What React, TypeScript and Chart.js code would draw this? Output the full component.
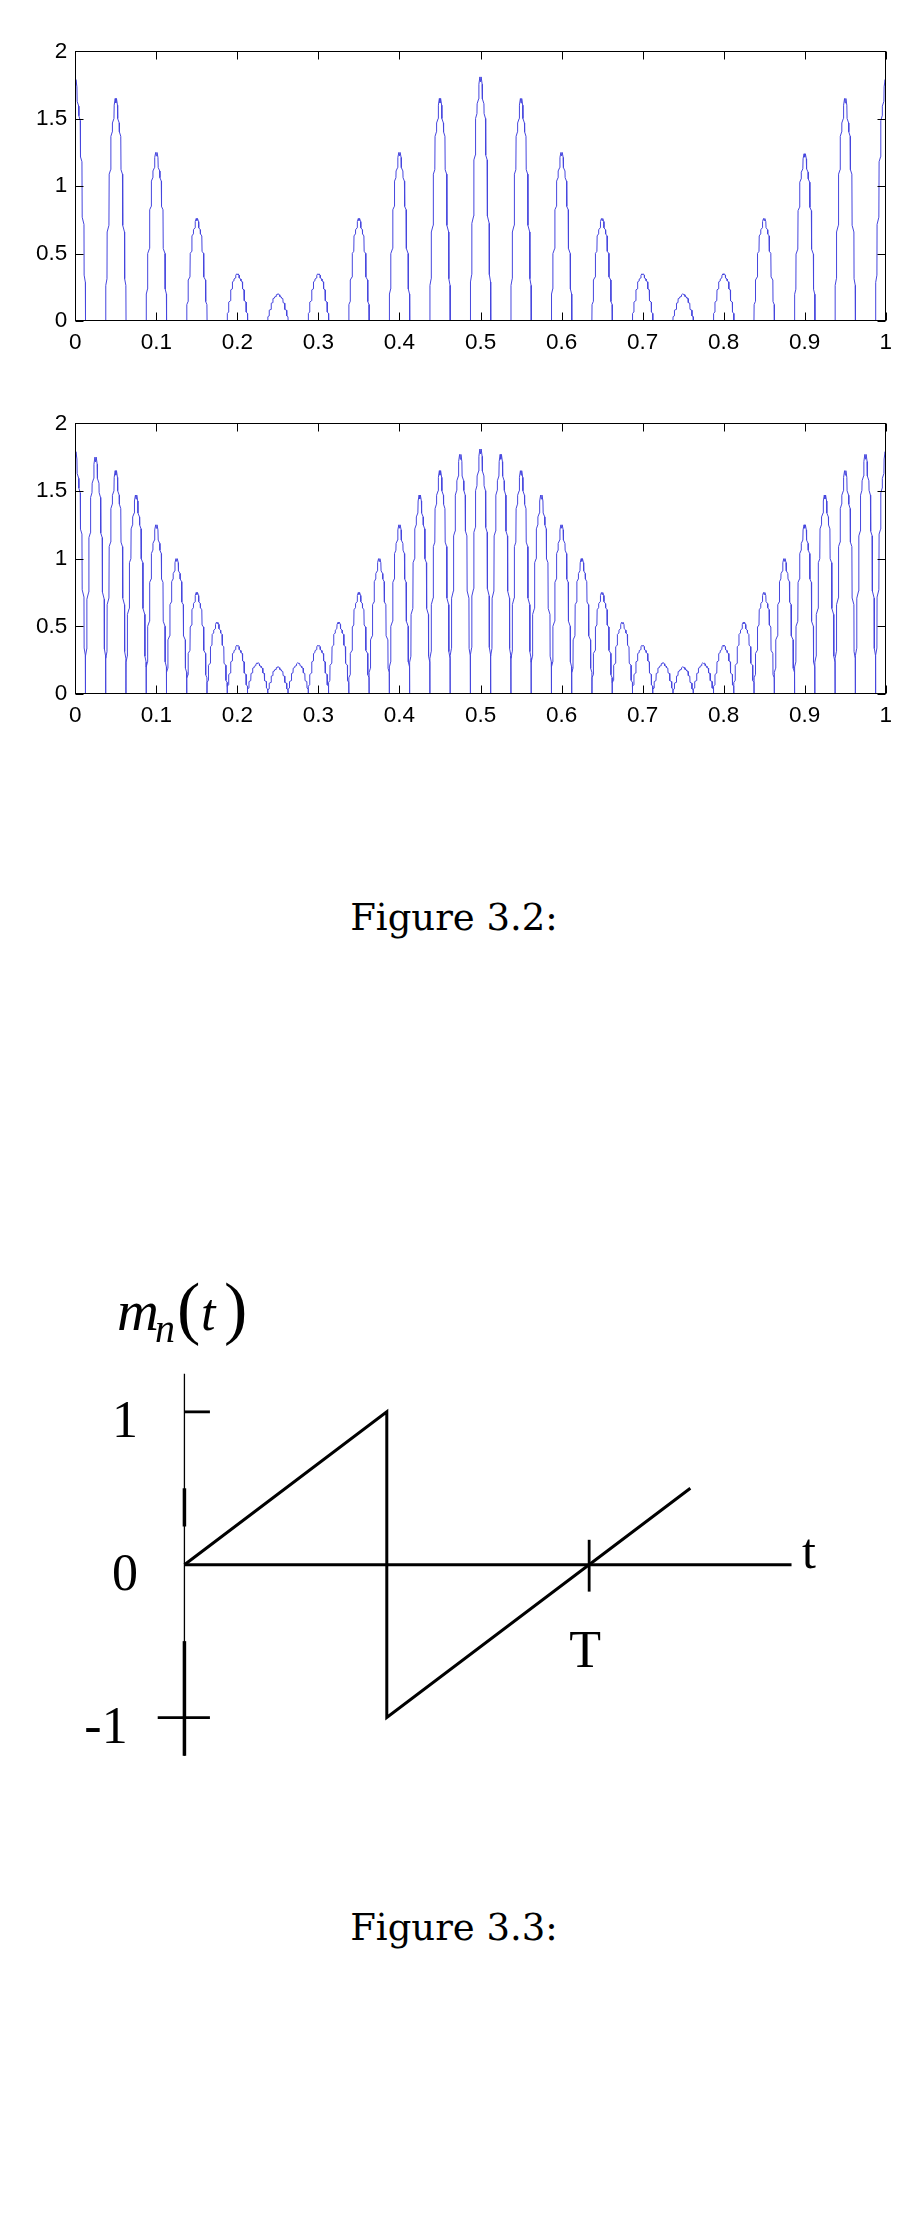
import React, { useEffect, useRef } from 'react';
import { Chart, registerables } from 'chart.js';

Chart.register(...registerables);

// ---------------- Figure 3.2 data ----------------
const xTickValues = [0, 0.1, 0.2, 0.3, 0.4, 0.5, 0.6, 0.7, 0.8, 0.9, 1];
const xTickLabels = ['0', '0.1', '0.2', '0.3', '0.4', '0.5', '0.6', '0.7', '0.8', '0.9', '1'];
const yTickValues = [0, 0.5, 1, 1.5, 2];
const yTickLabels = ['0', '0.5', '1', '1.5', '2'];

// upper panel: pulse centres and peak heights
const pulseCenters1 = [0, 0.05, 0.1, 0.15, 0.2, 0.25, 0.3, 0.35, 0.4, 0.45, 0.5, 0.55, 0.6, 0.65, 0.7, 0.75, 0.8, 0.85, 0.9, 0.95, 1];
const pulsePeaks1 = [1.79, 1.65, 1.25, 0.76, 0.35, 0.2, 0.35, 0.76, 1.25, 1.65, 1.81, 1.65, 1.25, 0.76, 0.35, 0.2, 0.35, 0.76, 1.24, 1.65, 1.79];

// lower panel
const pulseCenters2 = [
  0, 0.025, 0.05, 0.075, 0.1, 0.125, 0.15, 0.175, 0.2, 0.225,
  0.25, 0.275, 0.3, 0.325, 0.35, 0.375, 0.4, 0.425, 0.45, 0.475,
  0.5, 0.525, 0.55, 0.575, 0.6, 0.625, 0.65, 0.675, 0.7, 0.725,
  0.75, 0.775, 0.8, 0.825, 0.85, 0.875, 0.9, 0.925, 0.95, 0.975, 1,
];
const pulsePeaks2 = [
  1.79, 1.75, 1.65, 1.47, 1.25, 1.0, 0.75, 0.53, 0.36, 0.23,
  0.2, 0.23, 0.36, 0.53, 0.75, 1.0, 1.25, 1.47, 1.65, 1.77,
  1.81, 1.77, 1.65, 1.47, 1.25, 1.0, 0.75, 0.53, 0.36, 0.23,
  0.2, 0.23, 0.36, 0.53, 0.75, 1.0, 1.25, 1.47, 1.65, 1.77, 1.79,
];

// stepped pulse profile (offset from pulse centre, level relative to the peak)
const pulseOffsets = [
  -0.0126, -0.0124, -0.0109, -0.0107, -0.0085, -0.0082, -0.0064, -0.0061, -0.0044, -0.0042, -0.0023, -0.0020, -0.0008,
  0,
  0.0008, 0.0020, 0.0023, 0.0042, 0.0044, 0.0061, 0.0064, 0.0082, 0.0085, 0.0107, 0.0109, 0.0124, 0.0126,
];
const pulseLevels = [
  0, 0.16, 0.19, 0.4, 0.43, 0.66, 0.68, 0.83, 0.85, 0.89, 0.91, 0.97, 1.0,
  0.98,
  1.0, 0.97, 0.91, 0.89, 0.85, 0.83, 0.68, 0.66, 0.43, 0.4, 0.19, 0.16, 0,
];

// ---------------- Figure 3.3 data ----------------
const sawT = [0, 0.5, 0.5, 1.25];
const sawM = [0, 1, -1, 0.5];
const tAxisT = [0, 1.5];
const tAxisM = [0, 0];
const mAxisM = [-1.25, 1.25];
const mAxisBoldFrom = [0.25, -1.25];
const mAxisBoldTo = [0.5, -0.5];
const levelTickM = [1, -1];
const levelTickFrom = [0, -0.066];
const levelTickTo = [0.063, 0.063];
const periodValue = 1;
const periodTickFrom = -0.176;
const periodTickTo = 0.163;
const levelLabelValues = [1, 0, -1];
const levelLabels = ['1', '0', '-1'];
const periodLabel = 'T';
const timeLabel = 't';
const signalName = 'm';
const signalSub = 'n';
const signalArg = 't';

// ---------------- helpers ----------------
const WAVE = 'rgb(70,70,222)';

function buildPulseTrain(centers: number[], peaks: number[]) {
  const pts: { x: number; y: number }[] = [];
  centers.forEach((c, i) => {
    pulseOffsets.forEach((o, j) => {
      pts.push({ x: c + o, y: peaks[i] * pulseLevels[j] });
    });
  });
  return pts;
}

const snap = (v: number) => Math.round(v) + 0.5;

const matlabFrame = {
  id: 'matlabFrame',
  afterDatasetsDraw(chart: any) {
    const { ctx, chartArea: a, scales } = chart;
    const x = scales.x;
    const y = scales.y;
    const L = 8;
    const l = snap(a.left), r = snap(a.right) - 1, t = snap(a.top), b = snap(a.bottom) - 1;
    ctx.save();
    ctx.strokeStyle = '#000';
    ctx.lineWidth = 1;
    ctx.strokeRect(l, t, r - l, b - t);
    ctx.beginPath();
    x.ticks.forEach((tk: any) => {
      const px = snap(x.getPixelForValue(tk.value));
      ctx.moveTo(px, b);
      ctx.lineTo(px, b - L);
      ctx.moveTo(px, t);
      ctx.lineTo(px, t + L);
    });
    y.ticks.forEach((tk: any) => {
      const py = snap(y.getPixelForValue(tk.value));
      ctx.moveTo(l, py);
      ctx.lineTo(l + L, py);
      ctx.moveTo(r, py);
      ctx.lineTo(r - L, py);
    });
    ctx.stroke();
    ctx.restore();
  },
};

function makeWavePlot(canvas: HTMLCanvasElement, points: { x: number; y: number }[], padTop: number, axisH: number) {
  const tickFont = { family: '"Liberation Sans", Arial, sans-serif', size: 22.5 };
  return new Chart(canvas, {
    type: 'line',
    data: {
      datasets: [
        {
          data: points as any,
          borderColor: WAVE,
          borderWidth: 1,
          pointRadius: 0,
          tension: 0,
          fill: false,
        },
      ],
    },
    options: {
      animation: false,
      responsive: false,
      events: [],
      layout: { padding: { top: padTop, right: 9, left: 0, bottom: 0 } },
      plugins: { legend: { display: false }, tooltip: { enabled: false } },
      scales: {
        x: {
          type: 'linear',
          min: 0,
          max: 1,
          grid: { display: false, drawTicks: false },
          border: { display: false },
          afterBuildTicks: (s: any) => {
            s.ticks = xTickValues.map((v) => ({ value: v }));
          },
          afterFit: (s: any) => {
            s.height = axisH;
          },
          ticks: {
            autoSkip: false,
            maxRotation: 0,
            padding: 8,
            color: '#000',
            font: tickFont,
            callback: (_v: any, i: number) => xTickLabels[i],
          },
        },
        y: {
          type: 'linear',
          min: 0,
          max: 2,
          grid: { display: false, drawTicks: false },
          border: { display: false },
          afterBuildTicks: (s: any) => {
            s.ticks = yTickValues.map((v) => ({ value: v }));
          },
          afterFit: (s: any) => {
            s.width = 75.3;
          },
          ticks: {
            autoSkip: false,
            padding: 8,
            color: '#000',
            font: tickFont,
            callback: (_v: any, i: number) => yTickLabels[i],
          },
        },
      },
    } as any,
    plugins: [matlabFrame],
  });
}

function seg(ts: number[], ms: number[], w: number) {
  return {
    data: ts.map((v, i) => ({ x: v, y: ms[i] })),
    borderColor: '#000',
    borderWidth: w,
    pointRadius: 0,
    tension: 0,
    fill: false,
    clip: false,
  } as any;
}

const diagramText = {
  id: 'diagramText',
  afterDatasetsDraw(chart: any) {
    const { ctx, scales } = chart;
    const x = scales.x;
    const y = scales.y;
    const ox = x.getPixelForValue(0);
    const oy = y.getPixelForValue(0);
    const labelDx = [-59.4, -59.4, -78.4];
    ctx.save();
    ctx.fillStyle = '#000';
    ctx.textBaseline = 'alphabetic';
    ctx.textAlign = 'center';
    ctx.font = '52px "Liberation Serif", "Times New Roman", serif';
    levelLabelValues.forEach((v, i) => {
      ctx.fillText(levelLabels[i], ox + labelDx[i], y.getPixelForValue(v) + 25);
    });
    ctx.fillText(periodLabel, x.getPixelForValue(periodValue) - 4, oy + 102);
    ctx.font = '50px "Liberation Serif", "Times New Roman", serif';
    ctx.fillText(timeLabel, x.getPixelForValue(tAxisT[1]) + 17.5, oy + 3);
    ctx.textAlign = 'left';
    ctx.font = 'italic 58px "Liberation Serif", "Times New Roman", serif';
    ctx.fillText(signalName, ox - 67.4, oy - 235);
    ctx.font = 'italic 40px "Liberation Serif", "Times New Roman", serif';
    ctx.fillText(signalSub, ox - 29.4, oy - 223);
    ctx.font = '70px "Liberation Serif", "Times New Roman", serif';
    ctx.fillText('(', ox - 7.4, oy - 234);
    ctx.fillText(')', ox + 39.6, oy - 234);
    ctx.font = 'italic 52px "Liberation Serif", "Times New Roman", serif';
    ctx.fillText(signalArg, ox + 16.6, oy - 235);
    ctx.restore();
  },
};

function makeDiagram(canvas: HTMLCanvasElement) {
  const datasets: any[] = [
    seg(tAxisT, tAxisM, 3),
    seg([0, 0], mAxisM, 1.3),
    ...mAxisBoldFrom.map((f, i) => seg([0, 0], [f, mAxisBoldTo[i]], 3.5)),
    ...levelTickM.map((m, i) => seg([levelTickFrom[i], levelTickTo[i]], [m, m], 2.8)),
    seg([periodValue, periodValue], [periodTickFrom, periodTickTo], 2.8),
    seg(sawT, sawM, 3),
  ];
  return new Chart(canvas, {
    type: 'line',
    data: { datasets },
    options: {
      animation: false,
      responsive: false,
      events: [],
      layout: { padding: 0 },
      plugins: { legend: { display: false }, tooltip: { enabled: false } },
      scales: {
        x: { type: 'linear', min: -0.3, max: 1.6, display: false },
        y: { type: 'linear', min: -1.5, max: 2.0, display: false },
      },
    } as any,
    plugins: [diagramText],
  });
}

const captionStyle = (top: number): React.CSSProperties => ({
  position: 'absolute',
  left: 454,
  top,
  transform: 'translateX(-50%)',
  whiteSpace: 'nowrap',
  fontFamily: '"DejaVu Serif", serif',
  fontSize: 37,
  lineHeight: 1,
  color: '#000',
});

export default function App() {
  const c1 = useRef<HTMLCanvasElement>(null);
  const c2 = useRef<HTMLCanvasElement>(null);
  const c3 = useRef<HTMLCanvasElement>(null);

  useEffect(() => {
    document.body.style.margin = '0';
    const charts = [
      makeWavePlot(c1.current as HTMLCanvasElement, buildPulseTrain(pulseCenters1, pulsePeaks1), 51.3, 49),
      makeWavePlot(c2.current as HTMLCanvasElement, buildPulseTrain(pulseCenters2, pulsePeaks2), 53.3, 46),
      makeDiagram(c3.current as HTMLCanvasElement),
    ];
    return () => charts.forEach((c) => c.destroy());
  }, []);

  return (
    <div style={{ position: 'absolute', left: 0, top: 0, width: 900, height: 2219, background: '#fff', overflow: 'hidden' }}>
      <canvas ref={c1} width={900} height={370} style={{ position: 'absolute', left: 0, top: 0, width: 900, height: 370 }} />
      <canvas ref={c2} width={900} height={370} style={{ position: 'absolute', left: 0, top: 370, width: 900, height: 370 }} />
      <div style={captionStyle(898.7)}>Figure 3.2:</div>
      <canvas ref={c3} width={769} height={535} style={{ position: 'absolute', left: 63, top: 1259, width: 769, height: 535 }} />
      <div style={captionStyle(1908.7)}>Figure 3.3:</div>
    </div>
  );
}
